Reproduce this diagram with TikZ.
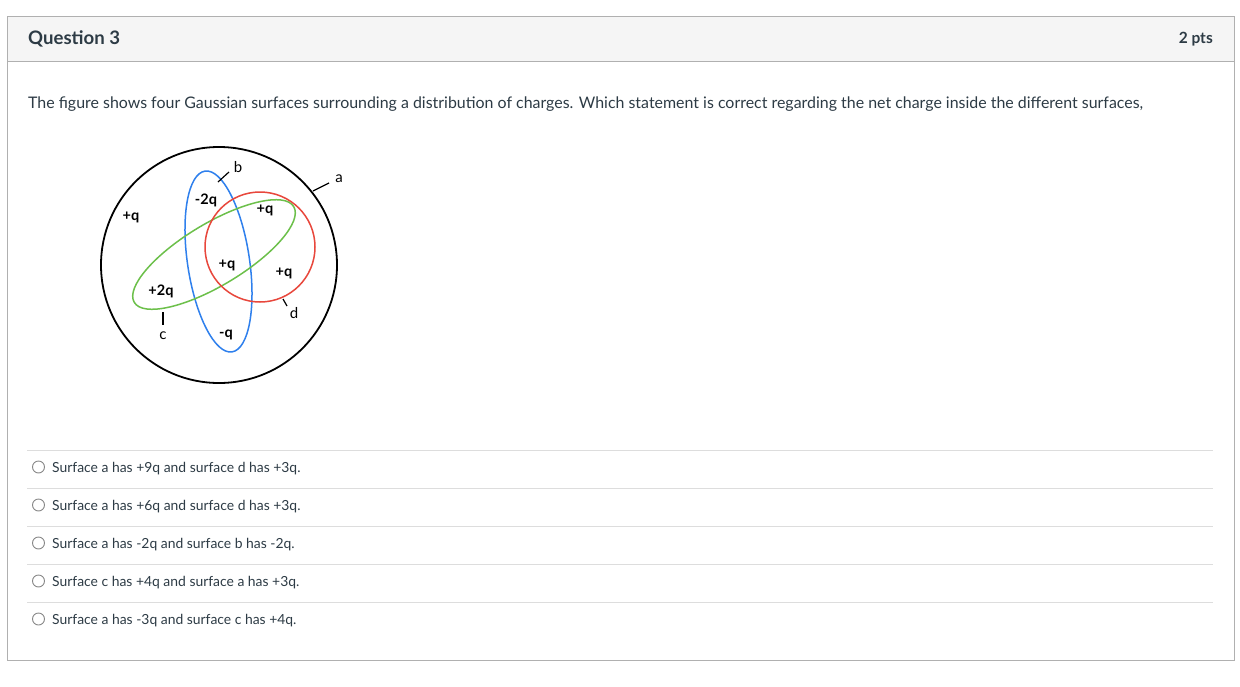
\documentclass[tikz,border=0pt]{standalone}
\usepackage{fontspec}
\setmainfont{Lato}
\definecolor{txt}{HTML}{2D3B45}
\definecolor{frm}{HTML}{B0B0B0}
\definecolor{hdr}{HTML}{F5F5F5}
\definecolor{sep}{HTML}{DDDDDD}
\definecolor{rad}{HTML}{888888}
\definecolor{gblue}{HTML}{2F80ED}
\definecolor{ggreen}{HTML}{6CC04A}
\definecolor{gred}{HTML}{E8473C}
\tikzset{
  hand/.style={font=\fontsize{14.5}{14}\selectfont\bfseries, inner sep=0pt, text=black},
  lett/.style={font=\fontsize{15}{15}\selectfont, inner sep=0pt, text=black},
  lead/.style={line width=1.2pt, black},
  ans/.style={anchor=base west, inner sep=0pt, text=txt, font=\fontsize{13.9}{14}\selectfont},
  radio/.style={circle, draw=rad, line width=0.9pt, minimum size=12pt, inner sep=0pt},
  sepline/.style={draw=sep, line width=0.9pt}
}
\begin{document}
\begin{tikzpicture}[x=1pt,y=1pt]
\useasboundingbox (0,0) rectangle (1240,-686);
\fill[white] (0,0) rectangle (1240,-686);
% frame
\draw[frm, line width=1pt] (7,-16) rectangle (1234,-660);
\filldraw[fill=hdr, draw=frm, line width=1pt] (7,-16) rectangle (1234,-61);
\node[anchor=base west, inner sep=0pt, text=txt, font=\fontsize{18.6}{18}\selectfont\bfseries] (title) at (28,-44) {Question 3};
\node[anchor=base east, inner sep=0pt, text=txt, font=\fontsize{15.5}{16}\selectfont\bfseries] (pts) at (1213,-43) {2 pts};
\node[anchor=base west, inner sep=0pt, text=txt, font=\fontsize{15.93}{16}\selectfont] (q) at (28,-108) {The figure shows four Gaussian surfaces surrounding a distribution of charges. Which statement is correct regarding the net charge inside the different surfaces,};

% figure
\draw[black, line width=1.8pt] (219,-265) circle (118);
\draw[gblue, line width=1.5pt] (218.5,-261.5) ellipse[x radius=31, y radius=91.4, rotate=8.5];
\draw[ggreen, line width=1.5pt] (214,-254.5) ellipse[x radius=93, y radius=31, rotate=31];
\draw[gred, line width=1.5pt] (260,-247) circle (55);

\node[hand] (c1) at (131,-217) {+q};
\node[hand] (c2) at (206,-200) {-2q};
\node[hand] (c3) at (265,-210) {+q};
\node[hand] (c4) at (227,-265) {+q};
\node[hand] (c5) at (284,-273) {+q};
\node[hand] (c6) at (161,-291) {+2q};
\node[hand] (c7) at (226,-335) {-q};

\node[lett] (la) at (339,-179) {a};
\node[lett] (lb) at (238,-167) {b};
\node[lett] (lc) at (163,-336) {c};
\node[lett] (ld) at (294,-313) {d};
\coordinate (pa1) at (313,-191); \coordinate (pa2) at (329,-183);
\coordinate (pb1) at (218,-182); \coordinate (pb2) at (229,-172);
\coordinate (pc1) at (163,-312); \coordinate (pc2) at (163,-325);
\coordinate (pd1) at (283,-299); \coordinate (pd2) at (287,-306);
\draw[lead] (pa1) -- (pa2);
\draw[lead] (pb1) -- (pb2);
\draw[lead] (pc1) -- (pc2);
\draw[lead] (pd1) -- (pd2);

% answers
\coordinate (s1a) at (27,-450); \coordinate (s1b) at (1213,-450);
\coordinate (s2a) at (27,-488); \coordinate (s2b) at (1213,-488);
\coordinate (s3a) at (27,-526); \coordinate (s3b) at (1213,-526);
\coordinate (s4a) at (27,-564); \coordinate (s4b) at (1213,-564);
\coordinate (s5a) at (27,-602); \coordinate (s5b) at (1213,-602);
\draw[sepline] (s1a) -- (s1b);
\draw[sepline] (s2a) -- (s2b);
\draw[sepline] (s3a) -- (s3b);
\draw[sepline] (s4a) -- (s4b);
\draw[sepline] (s5a) -- (s5b);

\node[radio] (r1) at (38.5,-467) {};
\node[radio] (r2) at (38.5,-505) {};
\node[radio] (r3) at (38.5,-543) {};
\node[radio] (r4) at (38.5,-581) {};
\node[radio] (r5) at (38.5,-619) {};
\node[ans] (a1) at (52,-472) {Surface a has +9q and surface d has +3q.};
\node[ans] (a2) at (52,-510) {Surface a has +6q and surface d has +3q.};
\node[ans] (a3) at (52,-548) {Surface a has -2q and surface b has -2q.};
\node[ans] (a4) at (52,-586) {Surface c has +4q and surface a has +3q.};
\node[ans] (a5) at (52,-624) {Surface a has -3q and surface c has +4q.};
\end{tikzpicture}
\end{document}
